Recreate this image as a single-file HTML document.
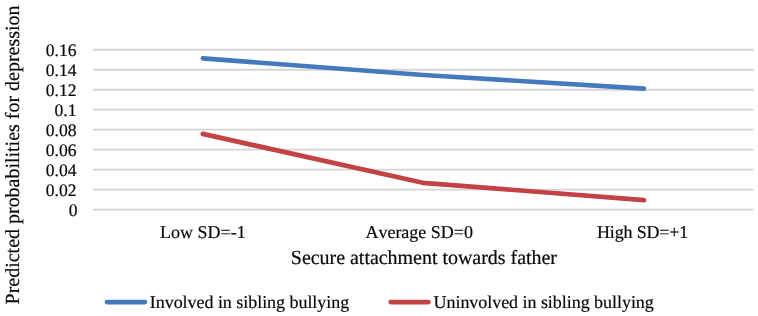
<!DOCTYPE html>
<html><head><meta charset="utf-8">
<style>
html,body{margin:0;padding:0;background:#fff;}
body{width:758px;height:316px;overflow:hidden;}
svg{display:block;}
text{font-family:"Liberation Serif",serif;fill:#0a0a0a;font-kerning:none;text-rendering:geometricPrecision;stroke:#0a0a0a;stroke-width:0.2px;}
</style></head>
<body>
<svg width="758" height="316" viewBox="0 0 758 316">
<rect width="758" height="316" fill="#fff"/>
<g stroke="#d5d5d5" stroke-width="1.8">
<line x1="93" x2="753.8" y1="49.75" y2="49.75"/>
<line x1="93" x2="753.8" y1="69.74" y2="69.74"/>
<line x1="93" x2="753.8" y1="89.73" y2="89.73"/>
<line x1="93" x2="753.8" y1="109.72" y2="109.72"/>
<line x1="93" x2="753.8" y1="129.71" y2="129.71"/>
<line x1="93" x2="753.8" y1="149.70" y2="149.70"/>
<line x1="93" x2="753.8" y1="169.69" y2="169.69"/>
<line x1="93" x2="753.8" y1="189.68" y2="189.68"/>
<line x1="93" x2="753.8" y1="209.67" y2="209.67"/>
</g>
<g font-size="17.6" text-anchor="end">
<text x="76.5" y="55.50">0.16</text>
<text x="76.5" y="75.50">0.14</text>
<text x="76.5" y="95.50">0.12</text>
<text x="76.5" y="115.50">0.1</text>
<text x="76.5" y="135.50">0.08</text>
<text x="76.5" y="155.50">0.06</text>
<text x="76.5" y="175.50">0.04</text>
<text x="76.5" y="195.50">0.02</text>
<text x="77.6" y="215.50">0</text>
</g>
<polyline points="202.9,58.4 423.4,75.0 643.9,88.7" fill="none" stroke="#447abd" stroke-width="4.7" stroke-linecap="round" stroke-linejoin="round"/>
<polyline points="202.8,133.9 422.8,182.8 644.0,200.2" fill="none" stroke="#c34245" stroke-width="4.7" stroke-linecap="round" stroke-linejoin="round"/>
<g font-size="18">
<text x="160" y="237.5">Low SD=-1</text>
<text x="365.4" y="237.5">Average SD=0</text>
<text x="597" y="237.5" textLength="91.3">High SD=+1</text>
</g>
<text x="290.8" y="264.4" font-size="20" textLength="266.2">Secure attachment towards father</text>
<text transform="translate(19.2,304.4) rotate(-90)" font-size="20" textLength="298.9">Predicted probabilities for depression</text>
<line x1="107" x2="144.9" y1="302.05" y2="302.05" stroke="#447abd" stroke-width="4.8" stroke-linecap="round"/>
<text x="149.8" y="308" font-size="18" textLength="199.4">Involved in sibling bullying</text>
<line x1="390.7" x2="428.4" y1="302.05" y2="302.05" stroke="#c34245" stroke-width="4.8" stroke-linecap="round"/>
<text x="433.5" y="308" font-size="18" textLength="220.3">Uninvolved in sibling bullying</text>
</svg>
</body></html>
